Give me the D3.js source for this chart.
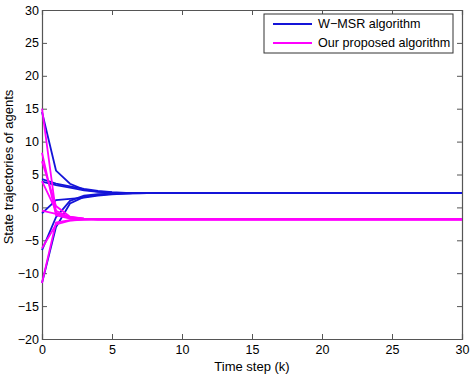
<!DOCTYPE html>
<html>
<head>
  <script src="https://d3js.org/d3.v7.min.js"></script>
  <style>
    * { margin: 0; box-sizing: border-box; }
    body { background: #fff; }
    text { font-family: "Liberation Sans", Arial, sans-serif; fill: #000; }
  </style>
</head>
<body>
  <script>
    // time steps (last point holds the converged value out to k = 30)
    const steps = [0, 1, 2, 3, 4, 5, 6, 7, 8, 30];

    // W-MSR algorithm agents
    const wmsr1 = [14.5, 5.6, 3.6, 2.7, 2.4, 2.25, 2.2, 2.2, 2.2, 2.2];
    const wmsr2 = [4.3, 3.6, 3.2, 2.8, 2.5, 2.3, 2.2, 2.2, 2.2, 2.2];
    const wmsr3 = [3.9, 3.4, 3.0, 2.6, 2.35, 2.25, 2.2, 2.2, 2.2, 2.2];
    const wmsr4 = [-0.9, 1.1, 1.3, 1.5, 1.8, 2.0, 2.1, 2.15, 2.2, 2.2];
    const wmsr5 = [-11.5, -3.0, 0.6, 1.6, 1.9, 2.05, 2.15, 2.2, 2.2, 2.2];
    const wmsr6 = [-6.5, -1.5, 1.0, 1.8, 2.0, 2.1, 2.15, 2.2, 2.2, 2.2];

    // proposed algorithm agents
    const ours1 = [15.0, -0.8, -1.6, -1.75, -1.8, -1.8, -1.8, -1.8, -1.8, -1.8];
    const ours2 = [8.3, -1.2, -1.7, -1.8, -1.8, -1.8, -1.8, -1.8, -1.8, -1.8];
    const ours3 = [7.0, 0.2, -1.4, -1.7, -1.8, -1.8, -1.8, -1.8, -1.8, -1.8];
    const ours4 = [4.0, -0.5, -1.5, -1.75, -1.8, -1.8, -1.8, -1.8, -1.8, -1.8];
    const ours5 = [-0.5, -1.0, -1.5, -1.7, -1.8, -1.8, -1.8, -1.8, -1.8, -1.8];
    const ours6 = [-6.2, -2.6, -2.0, -1.85, -1.8, -1.8, -1.8, -1.8, -1.8, -1.8];
    const ours7 = [-11.5, -2.3, -1.95, -1.85, -1.8, -1.8, -1.8, -1.8, -1.8, -1.8];

    const wmsrSeries = [wmsr1, wmsr2, wmsr3, wmsr4, wmsr5, wmsr6];
    const oursSeries = [ours1, ours2, ours3, ours4, ours5, ours6, ours7];

    const xTicks = [0, 5, 10, 15, 20, 25, 30];
    const yTicks = [-20, -15, -10, -5, 0, 5, 10, 15, 20, 25, 30];
    const legendLabels = ["W\u2212MSR algorithm", "Our proposed algorithm"];

    const width = 474, height = 376;
    const margin = { top: 10, right: 12, bottom: 37, left: 42 };
    const blue = "#1414d8", magenta = "#ff00ff";

    const svg = d3.select("body").append("svg")
      .attr("width", width)
      .attr("height", height);

    const x = d3.scaleLinear().domain([0, 30]).range([margin.left, width - margin.right]);
    const y = d3.scaleLinear().domain([-20, 30]).range([height - margin.bottom, margin.top]);

    const fmt = d => String(d).replace("-", "\u2212");

    // axes, MATLAB style: ticks inside on all four sides
    const axisColor = "#555";
    const tl = 5;
    const ax = [
      svg.append("g").attr("transform", `translate(0,${y(-20)})`)
        .call(d3.axisBottom(x).tickValues(xTicks).tickSize(-tl).tickPadding(6).tickFormat(fmt)),
      svg.append("g").attr("transform", `translate(0,${y(30)})`)
        .call(d3.axisTop(x).tickValues(xTicks).tickSize(-tl).tickFormat("")),
      svg.append("g").attr("transform", `translate(${x(0)},0)`)
        .call(d3.axisLeft(y).tickValues(yTicks).tickSize(-tl).tickPadding(3).tickFormat(fmt)),
      svg.append("g").attr("transform", `translate(${x(30)},0)`)
        .call(d3.axisRight(y).tickValues(yTicks).tickSize(-tl).tickFormat(""))
    ];
    ax.forEach(g => {
      g.select(".domain").attr("stroke", axisColor).attr("stroke-width", 1.2);
      g.selectAll(".tick line").attr("stroke", axisColor);
      g.selectAll(".tick text").attr("font-size", 12.5).attr("fill", "#000")
        .style("font-family", "'Liberation Sans', Arial, sans-serif");
    });

    const line = d3.line()
      .x((d, i) => x(steps[i]))
      .y(d => y(d));

    svg.append("g").selectAll("path")
      .data(wmsrSeries)
      .enter().append("path")
      .attr("d", line)
      .attr("fill", "none")
      .attr("stroke", blue)
      .attr("stroke-width", 1.8);

    svg.append("g").selectAll("path")
      .data(oursSeries)
      .enter().append("path")
      .attr("d", line)
      .attr("fill", "none")
      .attr("stroke", magenta)
      .attr("stroke-width", 1.8);

    // axis labels
    svg.append("text")
      .attr("x", (x(0) + x(30)) / 2)
      .attr("y", 371)
      .attr("text-anchor", "middle")
      .attr("font-size", 13)
      .text("Time step (k)");

    svg.append("text")
      .attr("transform", "translate(13,167) rotate(-90)")
      .attr("text-anchor", "middle")
      .attr("font-size", 13)
      .text("State trajectories of agents");

    // legend
    const lg = svg.append("g");
    lg.append("rect")
      .attr("x", 264).attr("y", 14)
      .attr("width", 189).attr("height", 39)
      .attr("fill", "#fff")
      .attr("stroke", "#333");
    [blue, magenta].forEach((c, i) => {
      lg.append("line")
        .attr("x1", 273).attr("x2", 312)
        .attr("y1", 24 + i * 19).attr("y2", 24 + i * 19)
        .attr("stroke", c).attr("stroke-width", 2);
      lg.append("text")
        .attr("x", 318).attr("y", 24 + i * 19)
        .attr("dy", "0.35em")
        .attr("font-size", 12.6)
        .text(legendLabels[i]);
    });
  </script>
</body>
</html>
